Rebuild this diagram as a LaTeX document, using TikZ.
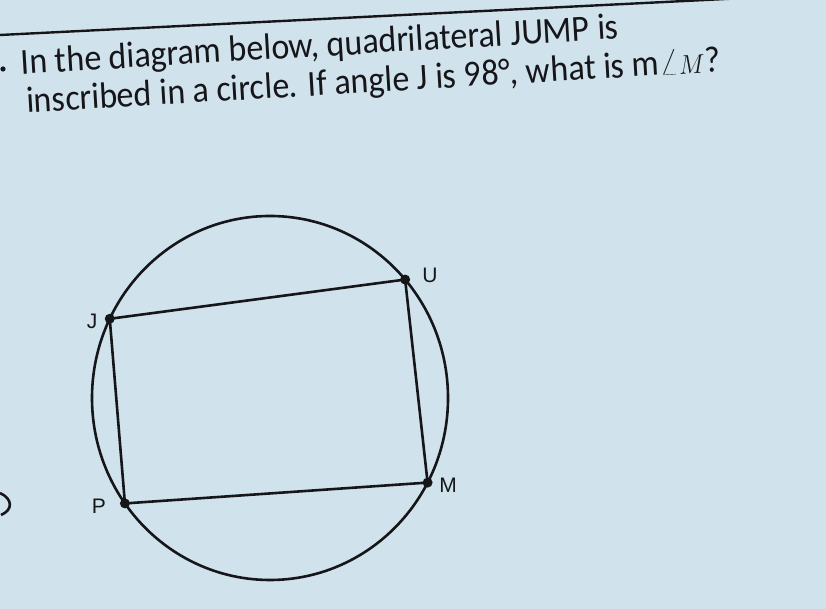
\documentclass[tikz,border=0pt]{standalone}
\usepackage{fontspec}
\setmainfont{Carlito}
\newfontfamily\labelfont{Liberation Sans}
\usepackage{tikz}
\usetikzlibrary{positioning,calc}
\definecolor{paper}{RGB}{208,227,236}
\definecolor{ink}{RGB}{22,22,26}

\tikzset{
  vertex/.style={circle,fill=ink,inner sep=0pt,minimum size=10pt},
  vlabel/.style={font=\labelfont\fontsize{21}{21}\selectfont,text=ink,inner sep=0pt},
  qline/.style={draw=ink,line width=2.6pt,line join=round},
  question/.style={font=\fontsize{34}{36}\selectfont,text=ink,inner sep=0pt,align=left,anchor=base west,rotate=3.4,yscale=1.08}
}

\begin{document}
\begin{tikzpicture}[x=1pt,y=1pt]
  \fill[paper] (0,0) rectangle (826,609);
  \useasboundingbox (0,0) rectangle (826,609);
  \clip (0,0) rectangle (826,609);

  \draw[ink,line width=2.4pt] (0,574) -- (826,615);
  \fill[ink] (3,540) circle (2.6pt);
  \draw[ink,line width=2.6pt] (0,116) .. controls (13,110) and (13,99) .. (1,94);

  \node[question] (task) at (25,496) {\hspace*{-1pt}In the diagram below, quadrilateral JUMP is\\
    \hspace*{2pt}inscribed in a circle. If angle J is 98\textdegree, what is m$\angle M$?};

  \coordinate (O) at (270,211);
  \draw[ink,line width=2.6pt] (O) ellipse (178pt and 182pt);

  \path (O) ++(154.2:178pt and 182pt) coordinate (j);
  \path (O) ++(40.6:178pt and 182pt) coordinate (u);
  \path (O) ++(-27.7:178pt and 182pt) coordinate (m);
  \path (O) ++(215.4:178pt and 182pt) coordinate (p);

  \draw[qline] (j) -- (u) -- (m) -- (p) -- cycle;

  \node[vertex] (J) at (j) {};
  \node[vertex] (U) at (u) {};
  \node[vertex] (M) at (m) {};
  \node[vertex] (P) at (p) {};

  \node[vlabel] (Jl) at (92,288) {J};
  \node[vlabel] (Ul) at (430,334) {U};
  \node[vlabel] (Ml) at (448,124) {M};
  \node[vlabel] (Pl) at (99,103) {P};
\end{tikzpicture}
\end{document}
